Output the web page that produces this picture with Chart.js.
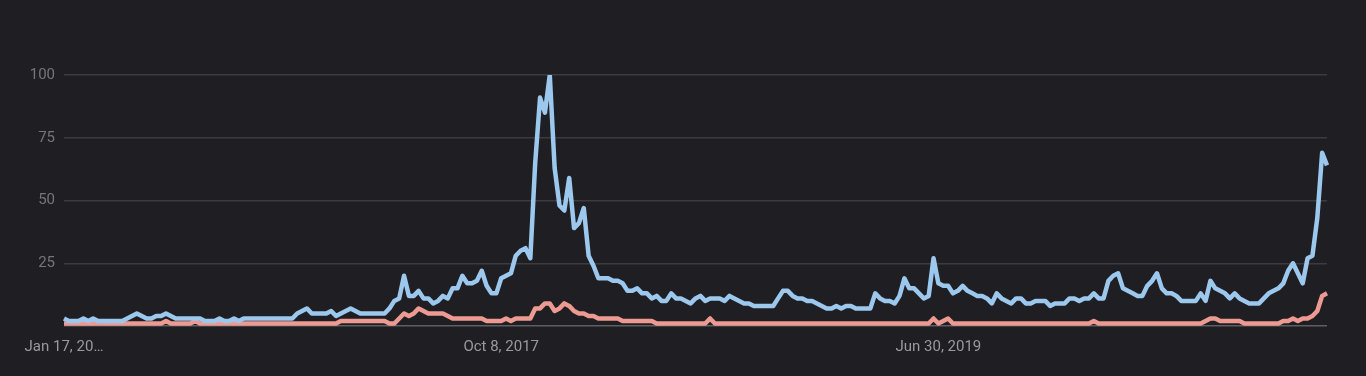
<!DOCTYPE html>
<html>
<head>
<meta charset="utf-8">
<script src="https://cdn.jsdelivr.net/npm/chart.js@4/dist/chart.umd.min.js"></script>
<style>
  html, body { margin: 0; padding: 0; background: #1f1f23; }
  #wrap { width: 1366px; height: 376px; }
</style>
</head>
<body>
<div id="wrap"><canvas id="trendChart" width="1366" height="376"></canvas></div>
<script>
// weekly interest, first week = Jan 17, 2016
const startWeek = '2016-01-17';

const blueSeries = [
  3, 2, 2, 2, 3, 2, 3, 2, 2, 2,
  2, 2, 2, 3, 4, 5, 4, 3, 3, 4,
  4, 5, 4, 3, 3, 3, 3, 3, 3, 2,
  2, 2, 3, 2, 2, 3, 2, 3, 3, 3,
  3, 3, 3, 3, 3, 3, 3, 3, 5, 6,
  7, 5, 5, 5, 5, 6, 4, 5, 6, 7,
  6, 5, 5, 5, 5, 5, 5, 7, 10, 11,
  20, 12, 12, 14, 11, 11, 9, 10, 12, 11,
  15, 15, 20, 17, 17, 18, 22, 16, 13, 13,
  19, 20, 21, 28, 30, 31, 27, 65, 91, 85,
  100, 63, 48, 46, 59, 39, 41, 47, 28, 24,
  19, 19, 19, 18, 18, 17, 14, 14, 15, 13,
  13, 11, 12, 10, 10, 13, 11, 11, 10, 9,
  11, 12, 10, 11, 11, 11, 10, 12, 11, 10,
  9, 9, 8, 8, 8, 8, 8, 11, 14, 14,
  12, 11, 11, 10, 10, 9, 8, 7, 7, 8,
  7, 8, 8, 7, 7, 7, 7, 13, 11, 10,
  10, 9, 12, 19, 15, 15, 13, 11, 12, 27,
  17, 16, 16, 13, 14, 16, 14, 13, 12, 12,
  11, 9, 13, 11, 10, 9, 11, 11, 9, 9,
  10, 10, 10, 8, 9, 9, 9, 11, 11, 10,
  11, 11, 13, 11, 11, 18, 20, 21, 15, 14,
  13, 12, 12, 16, 18, 21, 15, 13, 13, 12,
  10, 10, 10, 10, 13, 10, 18, 15, 14, 13,
  11, 13, 11, 10, 9, 9, 9, 11, 13, 14,
  15, 17, 22, 25, 21, 17, 27, 28, 43, 69,
  64
];

const redSeries = [
  1, 1, 1, 1, 1, 1, 1, 1, 1, 1,
  1, 1, 1, 1, 1, 1, 1, 1, 1, 1,
  1, 2, 1, 1, 1, 1, 1, 2, 1, 1,
  1, 1, 1, 1, 1, 1, 1, 1, 1, 1,
  1, 1, 1, 1, 1, 1, 1, 1, 1, 1,
  1, 1, 1, 1, 1, 1, 1, 2, 2, 2,
  2, 2, 2, 2, 2, 2, 2, 1, 1, 3,
  5, 4, 5, 7, 6, 5, 5, 5, 5, 4,
  3, 3, 3, 3, 3, 3, 3, 2, 2, 2,
  2, 3, 2, 3, 3, 3, 3, 7, 7, 9,
  9, 6, 7, 9, 8, 6, 5, 5, 4, 4,
  3, 3, 3, 3, 3, 2, 2, 2, 2, 2,
  2, 2, 1, 1, 1, 1, 1, 1, 1, 1,
  1, 1, 1, 3, 1, 1, 1, 1, 1, 1,
  1, 1, 1, 1, 1, 1, 1, 1, 1, 1,
  1, 1, 1, 1, 1, 1, 1, 1, 1, 1,
  1, 1, 1, 1, 1, 1, 1, 1, 1, 1,
  1, 1, 1, 1, 1, 1, 1, 1, 1, 3,
  1, 2, 3, 1, 1, 1, 1, 1, 1, 1,
  1, 1, 1, 1, 1, 1, 1, 1, 1, 1,
  1, 1, 1, 1, 1, 1, 1, 1, 1, 1,
  1, 1, 2, 1, 1, 1, 1, 1, 1, 1,
  1, 1, 1, 1, 1, 1, 1, 1, 1, 1,
  1, 1, 1, 1, 1, 2, 3, 3, 2, 2,
  2, 2, 2, 1, 1, 1, 1, 1, 1, 1,
  1, 2, 2, 3, 2, 3, 3, 4, 6, 12,
  13
];

// only these weeks carry a visible label
const xTickLabels = { 0: 'Jan 17, 20…', 90: 'Oct 8, 2017', 180: 'Jun 30, 2019' };
const yTicks = [0, 25, 50, 75, 100];

const weeks = blueSeries.map((_, i) => {
    const d = new Date(startWeek + 'T00:00:00Z');
    d.setUTCDate(d.getUTCDate() + i * 7);
    return d.toISOString().slice(0, 10);
});

const ctx = document.getElementById('trendChart').getContext('2d');
new Chart(ctx, {
    type: 'line',
    data: {
        labels: weeks,
        datasets: [
            {
                label: 'blue',
                data: blueSeries,
                borderColor: '#9cc8ee',
                borderWidth: 4.5,
                pointRadius: 0,
                tension: 0,
                borderJoinStyle: 'round'
            },
            {
                label: 'red',
                data: redSeries,
                borderColor: '#ec9a92',
                borderWidth: 4.5,
                pointRadius: 0,
                tension: 0,
                borderJoinStyle: 'round'
            }
        ]
    },
    options: {
        animation: false,
        responsive: false,
        events: [],
        layout: { padding: { top: 75, right: 39, left: 0, bottom: 0 } },
        plugins: {
            legend: { display: false },
            tooltip: { enabled: false }
        },
        scales: {
            x: {
                grid: { display: false },
                border: { display: false },
                afterFit: (scale) => { scale.height = 50; },
                ticks: {
                    autoSkip: false,
                    maxRotation: 0,
                    padding: 4,
                    color: '#9a9a9e',
                    font: { family: 'Roboto', size: 15 },
                    callback: (val, i) => (i in xTickLabels ? xTickLabels[i] : null)
                }
            },
            y: {
                min: 0,
                max: 100,
                afterFit: (scale) => { scale.width = 64; },
                afterBuildTicks: (scale) => { scale.ticks = yTicks.map(v => ({ value: v })); },
                border: { display: false },
                grid: {
                    drawTicks: false,
                    lineWidth: 1.5,
                    color: (c) => (c.tick && c.tick.value === 0 ? '#5f5f63' : '#3c3c40')
                },
                ticks: {
                    padding: 9,
                    color: '#75757a',
                    font: { family: 'Roboto', size: 15 },
                    callback: (v) => (v === 0 ? '' : v)
                }
            }
        }
    }
});
</script>
</body>
</html>
